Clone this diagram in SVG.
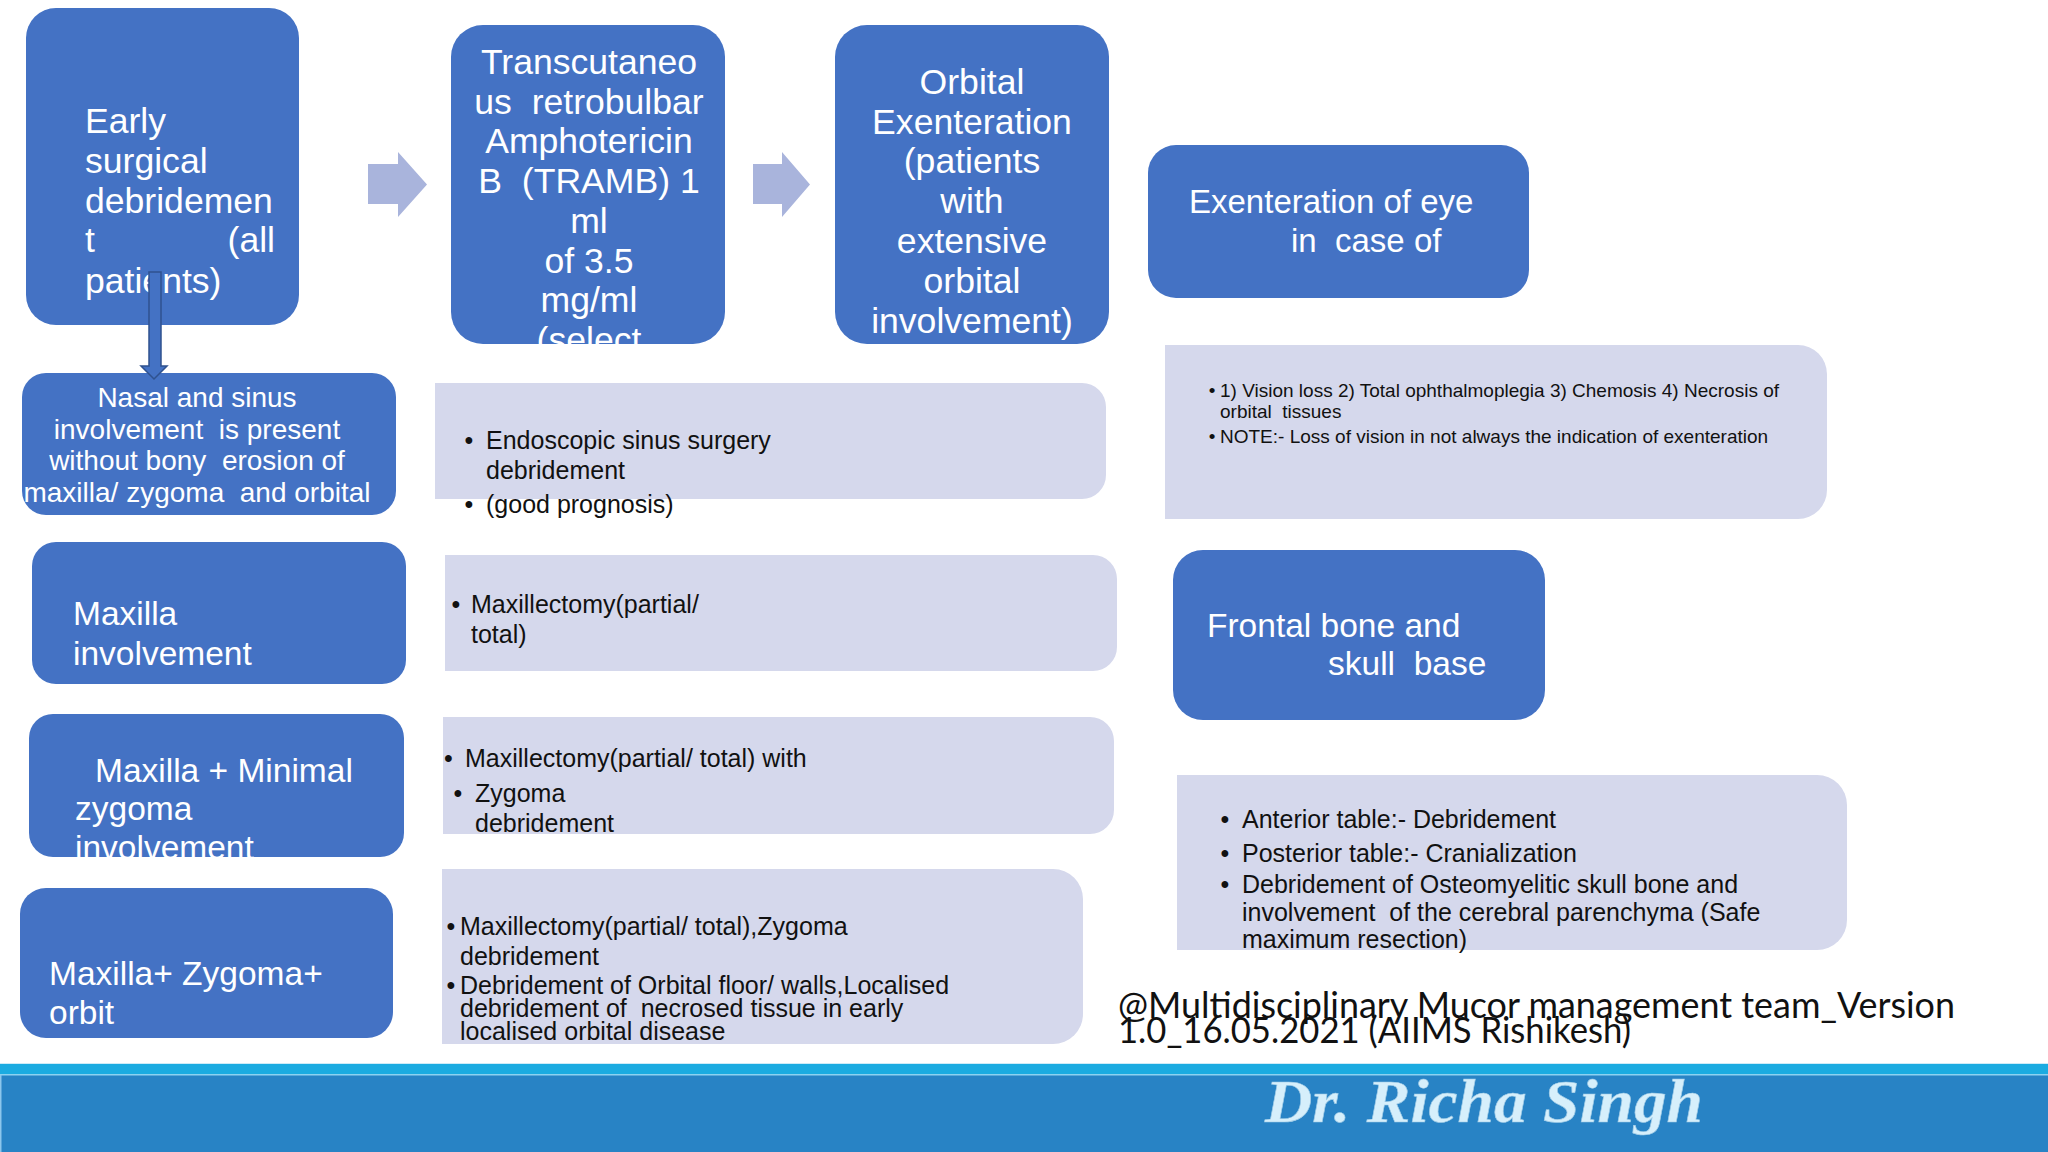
<svg xmlns="http://www.w3.org/2000/svg" width="2048" height="1152" viewBox="0 0 2048 1152">
<style>
.blue{fill:#4472C4}
.light{fill:#D5D8EC}
.wt{fill:#FFFFFF;font-family:"Liberation Sans",Arial,sans-serif}
.w35{font-size:35.6px}
.w33{font-size:33.5px}
.w28{font-size:28px}
.bk{fill:#111111;font-family:"Liberation Sans",Arial,sans-serif;font-size:25px}
.sm{font-size:19px}
.mid{text-anchor:middle}
.arr{fill:#A9B4DC}
.conn{fill:#4472C4;stroke:#2F528F;stroke-width:1.5}
</style>
<defs>
<clipPath id="clipTrans"><rect x="451" y="25" width="274" height="319" rx="32"/></clipPath>
<clipPath id="clipMinZyg"><rect x="29" y="714" width="375" height="143" rx="24"/></clipPath>
</defs>
<rect x="0" y="0" width="2048" height="1152" fill="#FFFFFF"/>

<!-- footer banner -->
<g id="banner">
<rect x="0" y="1063" width="2048" height="89" fill="#2883C5"/>
<rect x="0" y="1063" width="2048" height="11" fill="#1BABE1"/>
<rect x="0" y="1063" width="2048" height="1" fill="#CDEBF8"/>
<rect x="0" y="1074" width="2048" height="1.5" fill="#8CD2F1"/>
<rect x="0" y="1075" width="1.5" height="77" fill="#8CC6EC"/>
<text x="1265" y="1122" font-family="'Liberation Serif','DejaVu Serif',serif" font-style="italic" font-weight="bold" font-size="62" fill="#D6EFFB" stroke="#9FCBE6" stroke-width="0.6" textLength="438" lengthAdjust="spacingAndGlyphs">Dr. Richa Singh</text>
</g>

<!-- credit text -->
<g id="credit" font-family="Lato,'Liberation Sans',sans-serif" font-size="36" fill="#111111">
<text x="1118" y="1018" textLength="837" lengthAdjust="spacingAndGlyphs">@Multidisciplinary Mucor management team_Version</text>
<text x="1118" y="1043" textLength="513" lengthAdjust="spacingAndGlyphs">1.0_16.05.2021 (AIIMS Rishikesh)</text>
</g>

<g id="early">
<rect class="blue" x="26" y="8" width="273" height="317" rx="30"/>
<text class="wt w35" x="85" y="133">Early</text>
<text class="wt w35" x="85" y="173">surgical</text>
<text class="wt w35" x="85" y="213">debridemen</text>
<text class="wt w35" x="85" y="252">t</text>
<text class="wt w35" x="275" y="252" text-anchor="end">(all</text>
<text class="wt w35" x="85" y="293">patients)</text>
</g>

<g id="tramb">
<rect class="blue" x="451" y="25" width="274" height="319" rx="32"/>
<g clip-path="url(#clipTrans)">
<text class="wt w35 mid" x="589" y="74">Transcutaneo</text>
<text class="wt w35 mid" x="589" y="113.7" xml:space="preserve">us  retrobulbar</text>
<text class="wt w35 mid" x="589" y="153.4">Amphotericin</text>
<text class="wt w35 mid" x="589" y="193.1" xml:space="preserve">B  (TRAMB) 1</text>
<text class="wt w35 mid" x="589" y="232.8">ml</text>
<text class="wt w35 mid" x="589" y="272.5">of 3.5</text>
<text class="wt w35 mid" x="589" y="312.2">mg/ml</text>
<text class="wt w35 mid" x="589" y="352">(select</text>
</g>
</g>

<g id="orbital-exenteration">
<rect class="blue" x="835" y="25" width="274" height="319" rx="32"/>
<text class="wt w35 mid" x="972" y="94">Orbital</text>
<text class="wt w35 mid" x="972" y="134">Exenteration</text>
<text class="wt w35 mid" x="972" y="173">(patients</text>
<text class="wt w35 mid" x="972" y="213">with</text>
<text class="wt w35 mid" x="972" y="253">extensive</text>
<text class="wt w35 mid" x="972" y="293">orbital</text>
<text class="wt w35 mid" x="972" y="333">involvement)</text>
</g>

<g id="exenteration-eye">
<rect class="blue" x="1148" y="145" width="381" height="153" rx="28"/>
<text class="wt" font-size="33" x="1189" y="213">Exenteration of eye</text>
<text class="wt" font-size="33" x="1291" y="252" xml:space="preserve">in  case of</text>
</g>

<g id="exenteration-indications">
<path class="light" d="M1165,345 H1798 A29,29 0 0 1 1827,374 V490 A29,29 0 0 1 1798,519 H1165 Z"/>
<text class="bk sm" x="1208.7" y="397">•</text>
<text class="bk sm" x="1220" y="397">1) Vision loss 2) Total ophthalmoplegia 3) Chemosis 4) Necrosis of</text>
<text class="bk sm" x="1220" y="418" xml:space="preserve">orbital  tissues</text>
<text class="bk sm" x="1208.7" y="443">•</text>
<text class="bk sm" x="1220" y="443">NOTE:- Loss of vision in not always the indication of exenteration</text>
</g>

<g id="frontal">
<rect class="blue" x="1173" y="550" width="372" height="170" rx="30"/>
<text class="wt w33" x="1207" y="637">Frontal bone and</text>
<text class="wt w33" x="1328" y="675" xml:space="preserve">skull  base</text>
</g>

<g id="frontal-treatment">
<path class="light" d="M1177,775 H1817 A30,30 0 0 1 1847,805 V920 A30,30 0 0 1 1817,950 H1177 Z"/>
<text class="bk" x="1220.6" y="828">•</text>
<text class="bk" x="1242" y="828">Anterior table:- Debridement</text>
<text class="bk" x="1220.6" y="862">•</text>
<text class="bk" x="1242" y="862">Posterior table:- Cranialization</text>
<text class="bk" x="1220.6" y="893">•</text>
<text class="bk" x="1242" y="893">Debridement of Osteomyelitic skull bone and</text>
<text class="bk" x="1242" y="921" xml:space="preserve">involvement  of the cerebral parenchyma (Safe</text>
<text class="bk" x="1242" y="948">maximum resection)</text>
</g>

<g id="nasal-sinus">
<rect class="blue" x="22" y="373" width="374" height="142" rx="24"/>
<text class="wt w28 mid" x="197" y="407">Nasal and sinus</text>
<text class="wt w28 mid" x="197" y="439" xml:space="preserve">involvement  is present</text>
<text class="wt w28 mid" x="197" y="470" xml:space="preserve">without bony  erosion of</text>
<text class="wt w28 mid" x="197" y="502" xml:space="preserve">maxilla/ zygoma  and orbital</text>
</g>

<g id="endoscopic">
<path class="light" d="M435,383 H1082 A24,24 0 0 1 1106,407 V475 A24,24 0 0 1 1082,499 H435 Z"/>
<text class="bk" x="464.6" y="449">•</text>
<text class="bk" x="486" y="449">Endoscopic sinus surgery</text>
<text class="bk" x="486" y="479">debridement</text>
<text class="bk" x="464.6" y="513">•</text>
<text class="bk" x="486" y="513">(good prognosis)</text>
</g>

<g id="maxilla">
<rect class="blue" x="32" y="542" width="374" height="142" rx="24"/>
<text class="wt w33" x="73" y="625">Maxilla</text>
<text class="wt w33" x="73" y="665">involvement</text>
</g>

<g id="maxillectomy">
<path class="light" d="M445,555 H1093 A24,24 0 0 1 1117,579 V647 A24,24 0 0 1 1093,671 H445 Z"/>
<text class="bk" x="451.6" y="613">•</text>
<text class="bk" x="471" y="613">Maxillectomy(partial/</text>
<text class="bk" x="471" y="643">total)</text>
</g>

<g id="maxilla-minimal-zygoma">
<rect class="blue" x="29" y="714" width="375" height="143" rx="24"/>
<g clip-path="url(#clipMinZyg)">
<text class="wt w33" x="95" y="782">Maxilla + Minimal</text>
<text class="wt w33" x="75" y="820">zygoma</text>
<text class="wt w33" x="75" y="859">involvement</text>
</g>
</g>

<g id="maxillectomy-zygoma">
<path class="light" d="M443,717 H1090 A24,24 0 0 1 1114,741 V810 A24,24 0 0 1 1090,834 H443 Z"/>
<text class="bk" x="444" y="767">•</text>
<text class="bk" x="465" y="767">Maxillectomy(partial/ total) with</text>
<text class="bk" x="453.6" y="802">•</text>
<text class="bk" x="475" y="802">Zygoma</text>
<text class="bk" x="475" y="832">debridement</text>
</g>

<g id="maxilla-zygoma-orbit">
<rect class="blue" x="20" y="888" width="373" height="150" rx="26"/>
<text class="wt w33" x="49" y="985">Maxilla+ Zygoma+</text>
<text class="wt w33" x="49" y="1024">orbit</text>
</g>

<g id="orbital-debridement">
<path class="light" d="M442,869 H1053 A30,30 0 0 1 1083,899 V1014 A30,30 0 0 1 1053,1044 H442 Z"/>
<text class="bk" x="446.6" y="935">•</text>
<text class="bk" x="460" y="935">Maxillectomy(partial/ total),Zygoma</text>
<text class="bk" x="460" y="965">debridement</text>
<text class="bk" x="446.6" y="994">•</text>
<text class="bk" x="460" y="994">Debridement of Orbital floor/ walls,Localised</text>
<text class="bk" x="460" y="1017" xml:space="preserve">debridement of  necrosed tissue in early</text>
<text class="bk" x="460" y="1040">localised orbital disease</text>
</g>

<g id="connectors">
<polygon class="arr" points="368,164 398,164 398,152 427,184.5 398,217 398,204 368,204"/>
<polygon class="arr" points="753,164 782,164 782,152 810,184.5 782,217 782,204 753,204"/>
<polygon class="conn" points="149,272 161,272 161,366 167,366 154,379 141,366 149,366"/>
</g>
</svg>
